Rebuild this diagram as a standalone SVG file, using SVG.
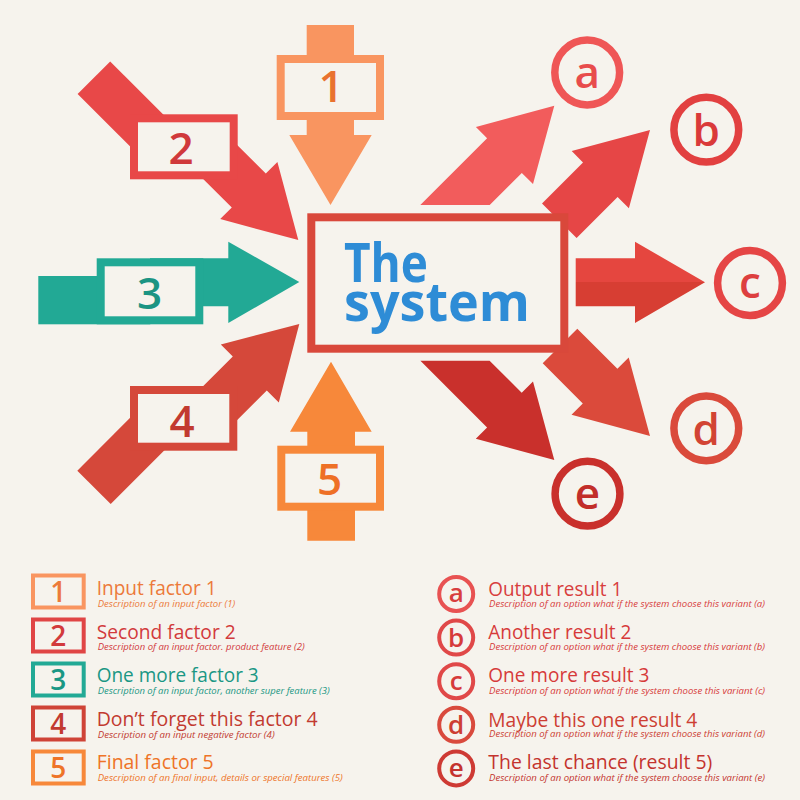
<svg xmlns="http://www.w3.org/2000/svg" width="800" height="800" viewBox="0 0 800 800">
<defs>
<linearGradient id="gc" x1="0" y1="0" x2="0" y2="1"><stop offset="0.5" stop-color="#E5463F"/><stop offset="0.5" stop-color="#D73E33"/></linearGradient>
</defs>
<style>
.bg{fill:#F6F3ED}
.lbl{fill:#F6F3ED;stroke-width:8}
.num{font-family:"Open Sans","Liberation Sans",sans-serif;font-weight:600;font-size:44px;text-anchor:middle}
.big{font-family:"Open Sans","Liberation Sans",sans-serif;font-weight:700;font-size:54px;fill:#2E8CD6}
.ring{fill:none;stroke-width:7.5}
.let{font-family:"Open Sans","Liberation Sans",sans-serif;font-weight:600;font-size:44px;text-anchor:middle}
.lbox{fill:none;stroke-width:4}
.lnum{font-family:"Open Sans","Liberation Sans",sans-serif;font-weight:600;font-size:28px;text-anchor:middle}
.lring{fill:none;stroke-width:4}
.llet{font-family:"Open Sans","Liberation Sans",sans-serif;font-weight:600;font-size:26px;text-anchor:middle}
.tt{font-family:"Open Sans","Liberation Sans",sans-serif;font-size:19.5px}
.ds{font-family:"Open Sans","Liberation Sans",sans-serif;font-style:italic;font-size:8.5px}
</style>
<rect class="bg" x="0" y="0" width="800" height="800"/>

<g id="connectors">
<!-- inputs -->
<g id="in1">
<polygon fill="#F99560" points="306.7,25 354,25 354,135 371.7,135 330.5,205 289.3,135 306.7,135"/>
<rect class="lbl" stroke="#F99560" x="280.7" y="59" width="99.3" height="57"/>
<text class="num" fill="#E9722F" x="331" y="101.5">1</text>
</g>
<g id="in2">
<polygon fill="#E84848" points="110.2,61.4 176.3,127.5 143.7,160.1 77.6,94"/>
<polygon fill="#E84848" points="212,120 265.8,173.5 277.4,161.9 298.3,240 220.2,219.1 231.8,207.5 178,154"/>
<rect class="lbl" stroke="#E84848" x="134" y="118.3" width="99.7" height="57"/>
<text class="num" fill="#D0393B" x="181" y="164">2</text>
</g>
<g id="in3">
<rect fill="#22A995" x="38.3" y="276" width="112" height="48.3"/>
<polygon fill="#22A995" points="150,258.3 228.3,258.3 228.3,241.7 299.3,282 228.3,323 228.3,306.3 150,306.3"/>
<rect class="lbl" stroke="#22A995" x="100.7" y="262.3" width="98.6" height="58"/>
<text class="num" fill="#1B9483" x="149.5" y="309">3</text>
</g>
<g id="in4">
<polygon fill="#D5483A" points="77.3,470.7 143.3,404.6 176.7,438 110.7,504"/>
<polygon fill="#D5483A" points="178,411.3 232.8,356.5 220.8,344.5 299.3,324 278.8,402.5 266.8,390.5 212,445.3"/>
<rect class="lbl" stroke="#D5483A" x="134" y="390" width="99.3" height="56.7"/>
<text class="num" fill="#C23A30" x="182" y="436.5">4</text>
</g>
<g id="in5">
<polygon fill="#F7883A" points="331,361.7 371.7,431.7 355,431.7 355,540.7 307.3,540.7 307.3,431.7 290,431.7"/>
<rect class="lbl" stroke="#F7883A" x="281.3" y="449.7" width="98.7" height="57"/>
<text class="num" fill="#EE7026" x="329.7" y="495">5</text>
</g>
<!-- outputs -->
<polygon id="outa" fill="#F25C5C" points="420.3,205 487.1,138.2 475.9,127 554.3,105.7 533,184.1 521.8,172.9 489.7,205"/>
<polygon id="outb" fill="#E64646" points="542,203.4 583,162.4 571.7,151.1 650,130 628.9,208.3 617.6,197 576.6,238"/>
<polygon id="outc" fill="url(#gc)" points="575.7,258.3 635,258.3 635,241.7 705,282.3 635,323 635,306.3 575.7,306.3"/>
<polygon id="outd" fill="#DB4A3B" points="577.3,328.7 617.4,368.8 628.7,357.5 650,436 571.5,414.7 582.8,403.4 542.7,363.3"/>
<polygon id="oute" fill="#C9302C" points="420.4,360.7 489.6,360.7 521.7,392.8 533,381.5 554.3,460 475.8,438.7 487.1,427.4"/>
</g>

<g id="system">
<rect x="311.3" y="217.3" width="253" height="131.4" fill="#F6F3ED" stroke="#D9483B" stroke-width="8"/>
<text class="big" x="344" y="281.5" textLength="84" lengthAdjust="spacingAndGlyphs">The</text>
<text class="big" x="344" y="321" textLength="186" lengthAdjust="spacingAndGlyphs">system</text>
</g>

<g id="result-a"><circle class="ring" stroke="#EF5656" cx="587.2" cy="72.5" r="32.4"/><text class="let" fill="#E84C4C" x="587.2" y="87.5">a</text></g>
<g id="result-b"><circle class="ring" stroke="#E24040" cx="706.3" cy="129.7" r="32.4"/><text class="let" fill="#DA3A3A" x="706.3" y="146">b</text></g>
<g id="result-c"><circle class="ring" stroke="#E54545" cx="750" cy="283" r="32.4"/><text class="let" fill="#DD3F3F" x="750" y="298">c</text></g>
<g id="result-d"><circle class="ring" stroke="#DA4A3B" cx="706.3" cy="428.3" r="32.4"/><text class="let" fill="#D24434" x="706.3" y="444.5">d</text></g>
<g id="result-e"><circle class="ring" stroke="#C9302C" cx="587.5" cy="493.7" r="32.4"/><text class="let" fill="#C22E2A" x="587.5" y="508.7">e</text></g>

<g id="legend-inputs">
<g id="leg1">
<rect class="lbox" stroke="#F99560" x="33" y="575.5" width="50.7" height="32"/>
<text class="lnum" fill="#EC7A3A" x="58.3" y="601.5">1</text>
<text class="tt" fill="#EC7A3A" x="96.7" y="595" textLength="120" lengthAdjust="spacingAndGlyphs">Input factor 1</text>
<text class="ds" fill="#EC7A3A" x="97.7" y="606.5" textLength="137.5" lengthAdjust="spacingAndGlyphs">Description of an input factor (1)</text>
</g>
<g id="leg2">
<rect class="lbox" stroke="#E04545" x="33" y="619.5" width="50.7" height="32"/>
<text class="lnum" fill="#D23A3C" x="58.3" y="645.5">2</text>
<text class="tt" fill="#D23A3C" x="96.7" y="638.5" textLength="139" lengthAdjust="spacingAndGlyphs">Second factor 2</text>
<text class="ds" fill="#D23A3C" x="97.7" y="650" textLength="207" lengthAdjust="spacingAndGlyphs">Description of an input factor. product feature (2)</text>
</g>
<g id="leg3">
<rect class="lbox" stroke="#22A995" x="33" y="663.5" width="50.7" height="32"/>
<text class="lnum" fill="#1A9784" x="58.3" y="689.5">3</text>
<text class="tt" fill="#1A9784" x="96.7" y="682" textLength="162" lengthAdjust="spacingAndGlyphs">One more factor 3</text>
<text class="ds" fill="#1A9784" x="97.7" y="694" textLength="232" lengthAdjust="spacingAndGlyphs">Description of an input factor, another super feature (3)</text>
</g>
<g id="leg4">
<rect class="lbox" stroke="#CF4337" x="33" y="707.5" width="50.7" height="32"/>
<text class="lnum" fill="#C23A30" x="58.3" y="733.5">4</text>
<text class="tt" fill="#C23A30" x="96.7" y="726" textLength="221" lengthAdjust="spacingAndGlyphs">Don’t forget this factor 4</text>
<text class="ds" fill="#C23A30" x="97.7" y="737.5" textLength="177" lengthAdjust="spacingAndGlyphs">Description of an input negative factor (4)</text>
</g>
<g id="leg5">
<rect class="lbox" stroke="#F7883A" x="33" y="751.5" width="50.7" height="32"/>
<text class="lnum" fill="#EE7428" x="58.3" y="777.5">5</text>
<text class="tt" fill="#EE7428" x="96.7" y="769" textLength="117" lengthAdjust="spacingAndGlyphs">Final factor 5</text>
<text class="ds" fill="#EE7428" x="97.7" y="781" textLength="245" lengthAdjust="spacingAndGlyphs">Description of an final input, details or special features (5)</text>
</g>
</g>

<g id="legend-outputs">
<g id="lega">
<circle class="lring" stroke="#E85252" cx="456.2" cy="594" r="17"/>
<text class="llet" fill="#D83E3E" x="456.2" y="602">a</text>
<text class="tt" fill="#D83E3E" x="488.3" y="595.5" textLength="134" lengthAdjust="spacingAndGlyphs">Output result 1</text>
<text class="ds" fill="#D83E3E" x="489" y="606.7" textLength="276" lengthAdjust="spacingAndGlyphs">Description of an option what if the system choose this variant (a)</text>
</g>
<g id="legb">
<circle class="lring" stroke="#E04848" cx="456.2" cy="637.6" r="17"/>
<text class="llet" fill="#D63A3A" x="456.2" y="646.5">b</text>
<text class="tt" fill="#D63A3A" x="488.3" y="639" textLength="143" lengthAdjust="spacingAndGlyphs">Another result 2</text>
<text class="ds" fill="#D63A3A" x="489" y="650" textLength="276" lengthAdjust="spacingAndGlyphs">Description of an option what if the system choose this variant (b)</text>
</g>
<g id="legc">
<circle class="lring" stroke="#E04848" cx="456.2" cy="681.2" r="17"/>
<text class="llet" fill="#D63A3A" x="456.2" y="689.5">c</text>
<text class="tt" fill="#D63A3A" x="488.3" y="682.3" textLength="161" lengthAdjust="spacingAndGlyphs">One more result 3</text>
<text class="ds" fill="#D63A3A" x="489" y="694" textLength="276" lengthAdjust="spacingAndGlyphs">Description of an option what if the system choose this variant (c)</text>
</g>
<g id="legd">
<circle class="lring" stroke="#D94A3D" cx="456.2" cy="724.8" r="17"/>
<text class="llet" fill="#CD3E33" x="456.2" y="733.7">d</text>
<text class="tt" fill="#CD3E33" x="488.3" y="726.7" textLength="209" lengthAdjust="spacingAndGlyphs">Maybe this one result 4</text>
<text class="ds" fill="#CD3E33" x="489" y="737.3" textLength="276" lengthAdjust="spacingAndGlyphs">Description of an option what if the system choose this variant (d)</text>
</g>
<g id="lege">
<circle class="lring" stroke="#CE3A34" cx="456.2" cy="768.4" r="17"/>
<text class="llet" fill="#C4332E" x="456.2" y="776.5">e</text>
<text class="tt" fill="#C4332E" x="488.3" y="769" textLength="224" lengthAdjust="spacingAndGlyphs">The last chance (result 5)</text>
<text class="ds" fill="#C4332E" x="489" y="781" textLength="276" lengthAdjust="spacingAndGlyphs">Description of an option what if the system choose this variant (e)</text>
</g>
</g>
</svg>
